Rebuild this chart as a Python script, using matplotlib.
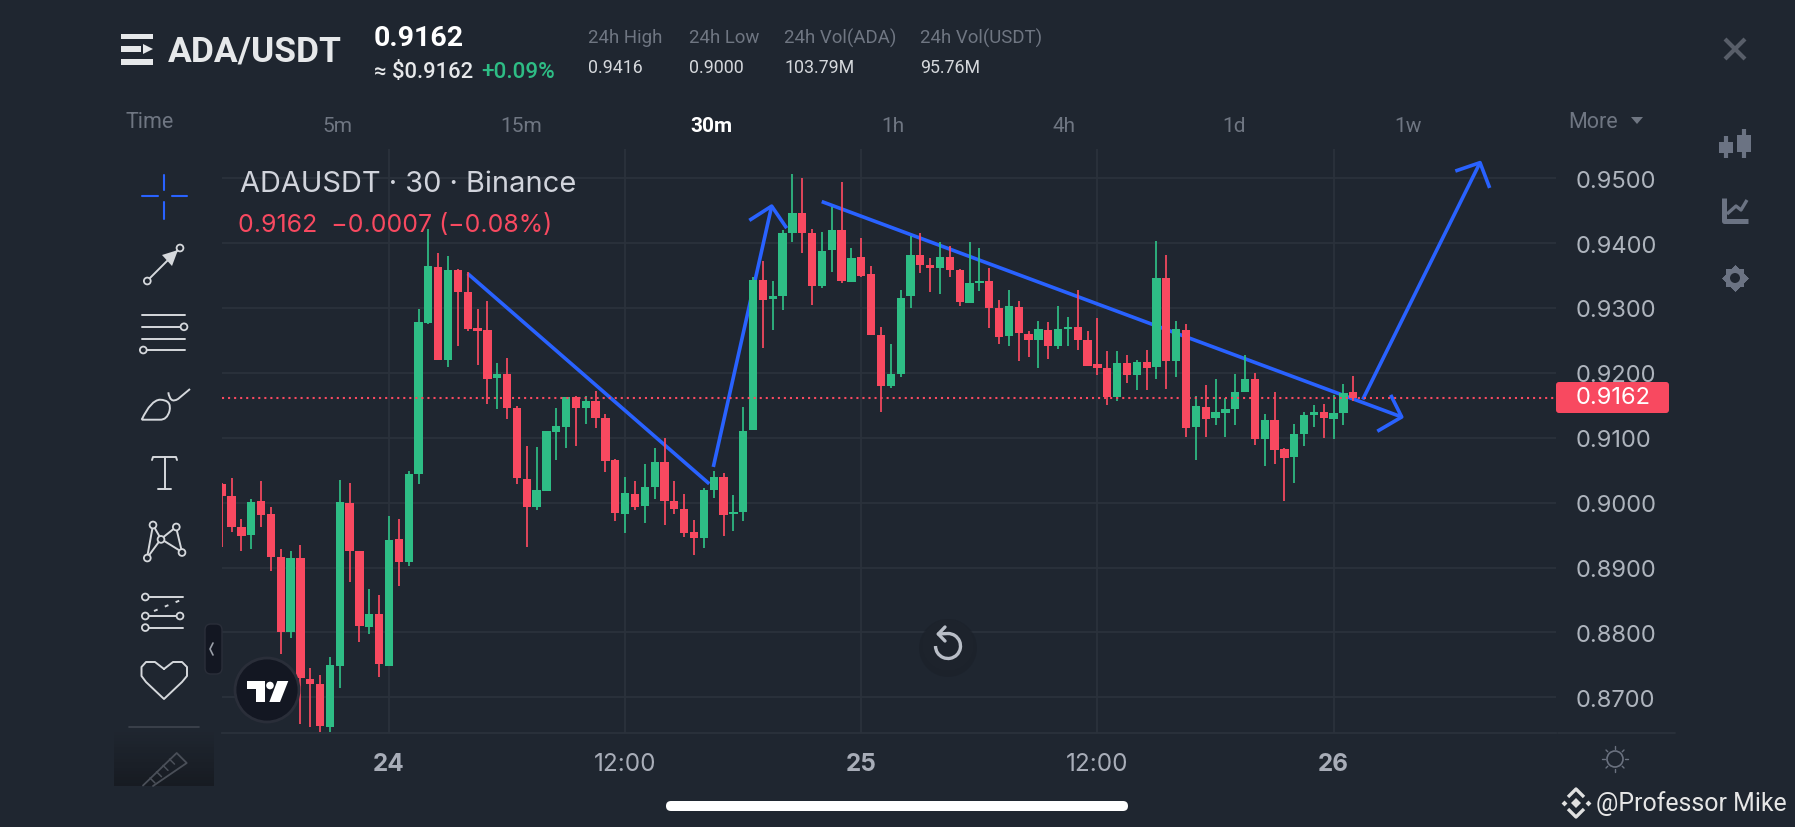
import matplotlib
matplotlib.use("Agg")
import matplotlib.pyplot as plt
import matplotlib.patches as mpatches
from matplotlib.path import Path

W, H = 1795, 828
BG = "#1f2630"
GRID = "#2b323c"
RED = "#f84960"
GREEN = "#2ebd85"
BLUE = "#2962ff"
ICON = "#d5d8dc"
MUTED = "#6f7682"
FONT = "Inter"

# 30 min candles, left to right
opens = [
    .9028, .9010, .8963, .8950, .9003, .8982, .8917, .8801, .8915, .8728,
    .8721, .8655, .8749, .9000, .8925, .8808, .8829, .8749, .8944, .8908,
    .9044, .9277, .9363, .9220, .9358, .9324, .9269, .9266, .9192, .9199,
    .9146, .9037, .8994, .9018, .9109, .9117, .9163, .9146, .9156, .9131,
    .9065, .8983, .9014, .8995, .9024, .9062, .9002, .8990, .8954, .8946,
    .9019, .9039, .8983, .8986, .9112, .9343, .9314, .9318, .9416, .9447,
    .9416, .9334, .9389, .9420, .9340, .9378, .9352, .9258, .9179, .9198,
    .9318, .9381, .9367, .9362, .9379, .9358, .9308, .9338, .9341, .9300,
    .9257, .9302, .9260, .9250, .9266, .9242, .9267, .9271, .9250, .9213,
    .9208, .9163, .9215, .9197, .9216, .9209, .9346, .9219, .9266, .9117,
    .9148, .9131, .9138, .9144, .9171, .9190, .9098, .9128, .9083, .9070,
    .9106, .9135, .9140, .9129, .9138, .9170,
]
closes = [
    .9010, .8962, .8949, .9001, .8981, .8916, .8801, .8915, .8729, .8720,
    .8656, .8750, .9001, .8925, .8810, .8829, .8751, .8942, .8909, .9044,
    .9279, .9364, .9220, .9359, .9324, .9267, .9264, .9190, .9198, .9146,
    .9038, .8994, .9019, .9110, .9118, .9163, .9146, .9157, .9131, .9064,
    .8984, .9015, .8994, .9024, .9062, .9002, .8990, .8953, .8946, .9020,
    .9039, .8981, .8986, .9111, .9343, .9313, .9319, .9416, .9447, .9416,
    .9334, .9388, .9420, .9342, .9377, .9350, .9258, .9179, .9199, .9316,
    .9381, .9367, .9361, .9379, .9358, .9309, .9339, .9341, .9300, .9256,
    .9303, .9261, .9250, .9267, .9242, .9267, .9270, .9250, .9211, .9208,
    .9163, .9215, .9197, .9216, .9208, .9346, .9219, .9267, .9115, .9149,
    .9129, .9139, .9144, .9171, .9190, .9098, .9128, .9081, .9069, .9106,
    .9135, .9140, .9131, .9138, .9169, .9162,
]
highs = [
    .9030, .9038, .8975, .9005, .9033, .8994, .8929, .8926, .8935, .8745,
    .8735, .8762, .9035, .9030, .8926, .8867, .8857, .8979, .8975, .9048,
    .9298, .9422, .9385, .9380, .9360, .9356, .9298, .9310, .9215, .9223,
    .9149, .9088, .9085, .9110, .9146, .9163, .9165, .9165, .9172, .9137,
    .9067, .9040, .9034, .9059, .9084, .9099, .9033, .9014, .8974, .9022,
    .9048, .9046, .9012, .9147, .9347, .9373, .9341, .9420, .9507, .9501,
    .9421, .9417, .9455, .9494, .9393, .9408, .9364, .9271, .9245, .9328,
    .9411, .9416, .9377, .9402, .9395, .9360, .9401, .9393, .9362, .9312,
    .9327, .9311, .9265, .9280, .9279, .9303, .9286, .9327, .9264, .9285,
    .9233, .9234, .9227, .9220, .9236, .9403, .9381, .9280, .9275, .9164,
    .9181, .9190, .9161, .9198, .9228, .9200, .9137, .9171, .9084, .9121,
    .9139, .9150, .9152, .9166, .9183, .9195,
]
lows = [
    .8932, .8954, .8925, .8929, .8962, .8895, .8767, .8792, .8659, .8655,
    .8646, .8646, .8714, .8877, .8785, .8797, .8732, .8748, .8872, .8903,
    .9029, .9276, .9220, .9209, .9242, .9264, .9212, .9152, .9144, .9129,
    .9028, .8932, .8988, .9018, .9066, .9084, .9088, .9121, .9115, .9047,
    .8972, .8953, .8989, .8969, .9005, .8966, .8982, .8947, .8919, .8930,
    .9007, .8948, .8956, .8972, .9112, .9238, .9266, .9297, .9402, .9385,
    .9305, .9331, .9355, .9338, .9340, .9348, .9258, .9140, .9177, .9193,
    .9300, .9354, .9325, .9321, .9348, .9303, .9307, .9326, .9269, .9245,
    .9242, .9219, .9225, .9207, .9222, .9237, .9242, .9236, .9210, .9197,
    .9151, .9157, .9184, .9173, .9174, .9190, .9175, .9193, .9101, .9066,
    .9101, .9120, .9101, .9120, .9171, .9089, .9057, .9059, .9002, .9031,
    .9088, .9117, .9100, .9098, .9120, .9157,
]
last_price = 0.9162

price_ticks = [0.87, 0.88, 0.89, 0.90, 0.91, 0.92, 0.93, 0.94, 0.95]
time_ticks = [17, 41, 65, 89, 113]
time_labels = ["24", "12:00", "25", "12:00", "26"]

# hand drawn trend lines and arrows: (candle index, price)
drawn_lines = [
    [(25.0, .9353), (49.55, .9029)],
    [(49.96, .9055), (55.89, .9457)],
    [(53.62, .9435), (55.89, .9457), (57.42, .9423)],
    [(60.98, .9464), (119.92, .9132)],
    [(118.8, .9166), (119.92, .9132), (117.44, .9110)],
    [(115.96, .9159), (127.88, .9524)],
    [(125.37, .9511), (127.88, .9524), (128.86, .9485)],
]

stats = [
    (588, "24h High", "0.9416"),
    (689, "24h Low", "0.9000"),
    (784, "24h Vol(ADA)", "103.79M"),
    (920, "24h Vol(USDT)", "95.76M"),
]
intervals = [(337, "5m"), (521, "15m"), (711, "30m"), (893, "1h"),
             (1064, "4h"), (1234, "1d"), (1408, "1w")]

plt.rcParams["font.family"] = [FONT, "DejaVu Sans"]
fig = plt.figure(figsize=(W / 100, H / 100), dpi=100, facecolor=BG)

# price chart
left, right, top, bottom = 222, 1556, 150, 734
ax = fig.add_axes([left / W, 1 - bottom / H, (right - left) / W, (bottom - top) / H],
                  facecolor=BG)
ax.set_xlim(0.03, 135.6)
ax.set_ylim(0.8645, 0.9545)
ax.grid(True, color=GRID, linewidth=1.3, zorder=0)
ax.set_axisbelow(True)
for name, spine in ax.spines.items():
    spine.set_visible(name == "bottom")
    spine.set_color(GRID)
    spine.set_linewidth(1.3)

ax.yaxis.tick_right()
ax.set_yticks(price_ticks)
ax.set_yticklabels([f"{p:.4f}" for p in price_ticks], fontsize=17, color="#aeb4bd")
ax.tick_params(axis="y", length=0, pad=14)
ax.set_xticks(time_ticks)
ax.set_xticklabels(time_labels, fontsize=17.5, color="#a8adb8")
ax.tick_params(axis="x", length=0, pad=14)
for lab, txt in zip(ax.get_xticklabels(), time_labels):
    if ":" not in txt:
        lab.set_fontweight("bold")

for pts in drawn_lines:
    ax.plot([p[0] for p in pts], [p[1] for p in pts], color=BLUE, linewidth=2.6,
            solid_capstyle="butt", solid_joinstyle="round", zorder=2)

x = list(range(len(opens)))
colors = [GREEN if c >= o else RED for o, c in zip(opens, closes)]
ax.vlines(x, lows, highs, colors=colors, linewidth=1.25, zorder=3)
ax.bar(x, [abs(c - o) for o, c in zip(opens, closes)],
       bottom=[min(o, c) for o, c in zip(opens, closes)],
       width=0.84, color=colors, linewidth=0, zorder=3)
ax.axhline(last_price, color=RED, linewidth=1.5, linestyle=(0, (1, 1.9)), zorder=4)

# everything around the chart, in screen pixels
ui = fig.add_axes([0, 0, 1, 1], facecolor="none")
ui.set_xlim(0, W)
ui.set_ylim(H, 0)
ui.axis("off")


def label(px, py, s, size, color, ha="left", weight="normal", font=FONT):
    ui.text(px, py, s, fontsize=size, color=color, ha=ha, va="center",
            fontweight=weight, family=[font, "DejaVu Sans"], zorder=7)


def line(xs, ys, color=ICON, lw=1.4, **kw):
    ui.plot(xs, ys, color=color, linewidth=lw, solid_capstyle=kw.pop("cap", "round"), **kw)


def circle(px, py, r=3.4, ec=ICON, fc=BG, lw=1.3):
    ui.add_patch(mpatches.Circle((px, py), r, edgecolor=ec, facecolor=fc, linewidth=lw, zorder=5))


def poly(pts, fc=ICON):
    ui.add_patch(mpatches.Polygon(pts, closed=True, facecolor=fc, edgecolor="none", zorder=5))


# header
for y0, y1, x1 in [(35, 40, 153), (47, 53, 141), (60, 66, 153)]:
    ui.add_patch(mpatches.Rectangle((121, y0), x1 - 121, y1 - y0, facecolor="#e6e8ea", edgecolor="none"))
poly([(143, 45), (153, 50), (143, 55)], "#e6e8ea")
label(168, 52, "ADA/USDT", 25.5, "#e6e8ea", weight="bold", font="Roboto")
label(374, 38, "0.9162", 20.5, "#ffffff", weight="bold", font="Roboto")
label(374, 73, "≈ $0.9162", 15.8, "#e6e8ea", weight="medium", font="Roboto")
label(481, 73, "+0.09%", 16.2, GREEN, weight="medium", font="Roboto")
for px, head, val in stats:
    label(px, 38, head, 13.4, MUTED, font="Roboto")
    label(px, 68, val, 12.8, "#d5d8dc", font="Roboto")

# interval row
label(125, 123, "Time", 15.5, MUTED, font="Roboto")
for px, s in intervals:
    if s == "30m":
        label(px, 126, s, 15, "#ffffff", ha="center", weight="bold", font="Roboto")
    else:
        label(px, 126, s, 15, MUTED, ha="center", font="Roboto")
label(1568, 123, "More", 15.5, MUTED, font="Roboto")
poly([(1631, 118), (1643, 118), (1637, 125)], MUTED)

# chart legend
label(240, 185, "ADAUSDT · 30 · Binance", 20.9, "#d1d4dc")
label(238, 226, "0.9162  −0.0007 (−0.08%)", 17.9, RED)

# last price tag
ui.add_patch(mpatches.FancyBboxPatch((1556, 383), 113, 31, boxstyle="round,pad=0,rounding_size=3",
                                     facecolor=RED, edgecolor="none"))
label(1613, 398.5, "0.9162", 17, "#ffffff", ha="center")
line([1558, 1675], [734, 734], color=GRID, lw=1.3)

# left toolbar
for xs, ys in [([164, 164], [176, 191]), ([164, 164], [203, 220]),
               ([142, 158], [197, 197]), ([172, 187], [197, 197])]:
    line(xs, ys, color=BLUE, lw=1.5)
line([147, 180], [282, 249])
poly([(162, 256), (178, 251), (172, 267)])
circle(147.3, 282)
circle(180, 249)
for yy in [316.3, 327.8, 339.6, 351]:
    line([142, 185], [yy, yy])
circle(184, 327.8)
circle(143.3, 351)
brush = Path([(141.7, 420.7), (151, 401), (160, 400.7), (172, 401), (169.5, 412),
              (167, 421), (160, 420.7), (141.7, 420.7)],
             [Path.MOVETO, Path.CURVE3, Path.CURVE3, Path.CURVE3, Path.CURVE3,
              Path.CURVE3, Path.CURVE3, Path.LINETO])
ui.add_patch(mpatches.PathPatch(brush, facecolor="none", edgecolor=ICON, linewidth=1.4))
hook = Path([(168.3, 393.3), (170, 405), (178, 400), (190, 390)],
            [Path.MOVETO, Path.CURVE3, Path.CURVE3, Path.LINETO])
ui.add_patch(mpatches.PathPatch(hook, facecolor="none", edgecolor=ICON, linewidth=1.4))
line([164.5, 164.5], [458, 490])
line([158, 171], [490, 490])
line([152, 153, 176, 177], [461, 458, 458, 461])
for a, b in [((153, 526), (147, 559)), ((153, 526), (161, 540)), ((161, 540), (176, 528)),
             ((176, 528), (182, 553)), ((161, 540), (182, 553)), ((161, 540), (147, 559))]:
    line([a[0], b[0]], [a[1], b[1]])
for px, py in [(153, 526), (176.3, 528), (161, 540.4), (147.3, 559), (182, 553.5)]:
    circle(px, py)
line([145, 183], [598, 598])
line([145, 183], [617, 617])
line([145, 183], [628.6, 628.6])
line([154, 181], [612, 601], linestyle=(0, (2, 4)))
for px, py in [(145.3, 598), (145.3, 617), (180, 617), (145.3, 628.6)]:
    circle(px, py)
line([164, 155, 146, 141.5, 141.5, 146, 164, 182, 187, 187, 182, 173, 164],
     [670, 663, 663, 668, 677, 683, 700, 683, 677, 668, 663, 663, 670])
# fade under the ruler
for k in range(19):
    t = k / 18
    shade = tuple(a + (b - a) * t for a, b in zip((0.122, 0.149, 0.188), (0.090, 0.106, 0.133)))
    ui.add_patch(mpatches.Rectangle((114, 730 + k * 3), 100, 3, facecolor=shade, edgecolor="none"))
line([129, 199], [728, 728], color="#3f454f", lw=1.2)
line([143, 176.7, 186.7, 153], [786.5, 754, 764, 787], color="#4a4f58", lw=1.3)
for k in range(4):
    line([150 + k * 6.5, 155 + k * 6.5], [779 - k * 6.3, 784 - k * 6.3], color="#4a4f58", lw=1.1)
ui.add_patch(mpatches.FancyBboxPatch((205, 625), 17, 50, boxstyle="round,pad=0,rounding_size=6",
                                     facecolor="#131722", edgecolor="#2a2e39", linewidth=1))
line([213, 210, 213], [644, 650, 656], color="#9a9fa8", lw=1.2)

# right toolbar
line([1725, 1745], [40, 60], color="#585e69", lw=3, cap="butt")
line([1725, 1745], [60, 40], color="#585e69", lw=3, cap="butt")
for px, y0, y1, w0, w1 in [(1726, 143, 154, 137, 159), (1744, 136, 153, 130, 159)]:
    ui.add_patch(mpatches.Rectangle((px - 7, y0), 14, y1 - y0, facecolor="#6b7383", edgecolor="none"))
    line([px, px], [w0, w1], color="#6b7383", lw=3, cap="butt")
line([1724, 1724, 1748], [199, 222, 222], color="#6b7383", lw=3.6, cap="butt")
line([1727, 1736, 1741, 1747], [215, 207, 211, 201], color="#6b7383", lw=2.4, cap="butt")
for k in range(8):
    ui.plot([1735], [279], marker=(4, 0, k * 45), markersize=19, color="#6b7383", markeredgewidth=0)
circle(1735, 279, r=5, ec=BG, fc=BG, lw=0)

# sun icon below the price scale
circle(1615, 760, r=8, ec="#6b7280", fc=BG, lw=1.2)
for dx, dy in [(0, -13), (0, 13), (-13, 0), (13, 0), (9, -9), (-9, -9), (9, 9), (-9, 9)]:
    line([1615 + dx * 0.8, 1615 + dx], [760 + dy * 0.8, 760 + dy], color="#6b7280", lw=1)

# TradingView badge
ui.add_patch(mpatches.Circle((267, 691), 32, facecolor="#131722", edgecolor="#2a2e39", linewidth=2, zorder=5))
poly([(246.7, 682), (265, 682), (265, 703), (255.7, 703), (255.7, 690), (246.7, 690)], "#ffffff")
ui.add_patch(mpatches.Circle((270, 686.5), 3.8, facecolor="#ffffff", edgecolor="none", zorder=6))
poly([(277.3, 682), (288.3, 682), (280, 703), (269.3, 703)], "#ffffff")

# reset button
ui.add_patch(mpatches.Circle((948, 649), 29, facecolor="#1a2029", edgecolor="none", alpha=0.6, zorder=5))
ui.add_patch(mpatches.Circle((948, 646), 26, facecolor="#1d232c", edgecolor="none", zorder=5))
ui.add_patch(mpatches.Arc((948, 647), 25, 25, theta1=-90, theta2=180, color="#b9bec7", linewidth=2.4, zorder=6))
line([945, 938.3, 945], [628, 635, 642], color="#b9bec7", lw=2.4, zorder=6)
line([938.3, 948], [635, 634.5], color="#b9bec7", lw=2.4, zorder=6)

# home indicator and watermark
ui.add_patch(mpatches.FancyBboxPatch((666, 802), 462, 10, boxstyle="round,pad=0,rounding_size=5",
                                     facecolor="#ffffff", edgecolor="none"))
line([1568, 1576, 1584], [798, 790, 798], color="#e0e0e0", lw=2.4, cap="butt")
line([1568, 1576, 1584], [810, 818, 810], color="#e0e0e0", lw=2.4, cap="butt")
for px, size in [(1564, 3), (1576, 4.6), (1588, 3)]:
    ui.plot([px], [804], marker="D", markersize=size, color="#e0e0e0", markeredgewidth=0)
label(1596, 804, "@Professor Mike", 17.9, "#e6e6e6", font="Roboto")

fig.savefig("out.png", dpi=100, facecolor=BG)
plt.close(fig)
